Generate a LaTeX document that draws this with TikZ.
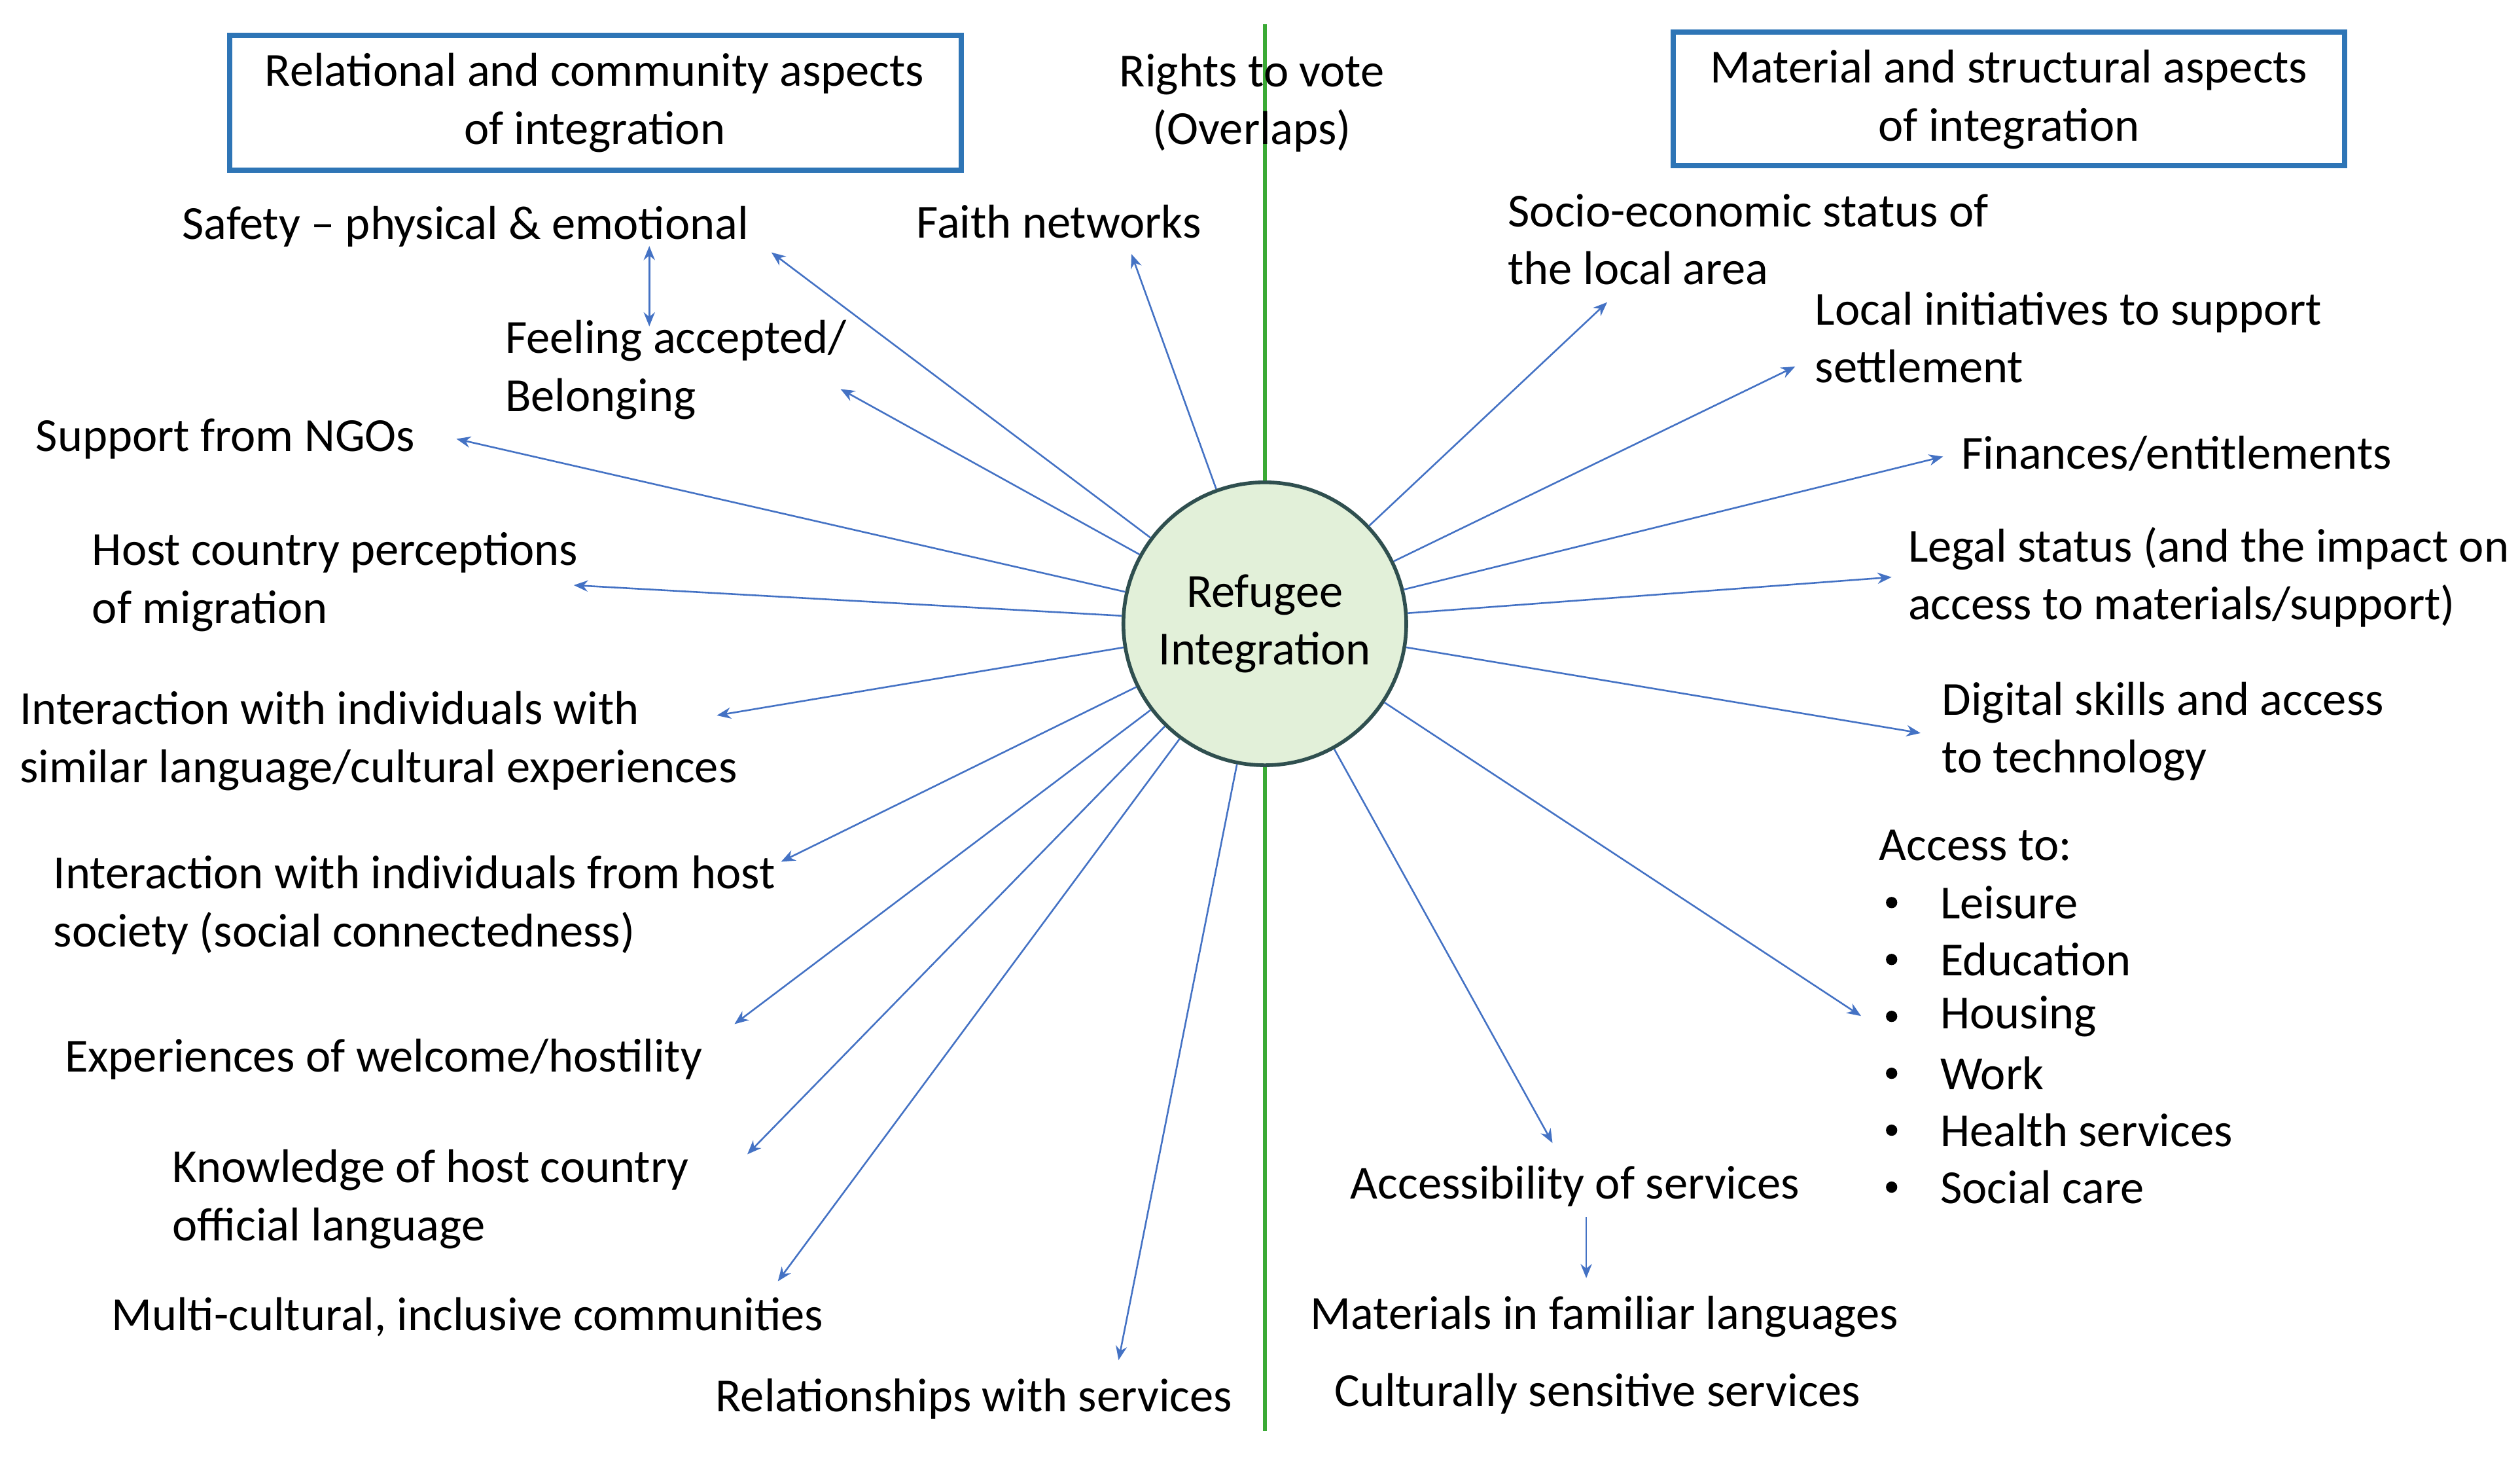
\documentclass[tikz,border=0pt]{standalone}
\usepackage{fontspec}
\setmainfont{Carlito}
\usetikzlibrary{arrows.meta}
\definecolor{arr}{HTML}{4472C4}
\definecolor{boxb}{HTML}{2E75B6}
\definecolor{vline}{HTML}{3AAA35}
\definecolor{cfill}{HTML}{E2F0D9}
\definecolor{cdraw}{HTML}{2F4F4F}
\begin{document}
\begin{tikzpicture}[x=0.02cm,y=-0.02cm,
  lbl/.style={anchor=west,align=left,inner sep=0pt,font=\fontsize{16.8}{20.5}\selectfont},
  ctr/.style={align=center,inner sep=0pt,font=\fontsize{16.8}{20.5}\selectfont},
  link/.style={draw=arr,line width=0.6pt,-{Stealth[length=5pt,width=4pt]}},
  hdr/.style={draw=boxb,line width=1.8pt}]
\useasboundingbox (0,0) rectangle (1568,910);
\draw[vline,line width=1.3pt] (787,15) -- (787,890);
\node[circle,fill=cfill,draw=cdraw,line width=1.3pt,minimum size=176*0.02cm,ctr] (c) at (787,388) {Refugee\\Integration};
\draw[hdr] (143,22) rectangle (598,106);
\draw[hdr] (1041,20) rectangle (1459,103);
\node[ctr] (h1) at (370,64) {Relational and community aspects\\of integration};
\node[ctr] (h2) at (1250,62) {Material and structural aspects\\of integration};
\node[ctr] (rv) at (779,64) {Rights to vote\\(Overlaps)};
\node[lbl] (t1) at (113,141) {Safety – physical \& emotional};
\node[lbl] (t2) at (570,138) {Faith networks};
\node[lbl] (t3) at (314,230) {Feeling accepted/\\Belonging};
\node[lbl] (t4) at (22,273) {Support from NGOs};
\node[lbl] (t5) at (57,362) {Host country perceptions\\of migration};
\node[lbl] (t6) at (12,461) {Interaction with individuals with\\similar language/cultural experiences};
\node[lbl] (t7) at (33,563) {Interaction with individuals from host\\society (social connectedness)};
\node[lbl] (t8) at (40,659) {Experiences of welcome/hostility};
\node[lbl] (t9) at (107,746) {Knowledge of host country\\official language};
\node[lbl] (t10) at (69,819) {Multi-cultural, inclusive communities};
\node[lbl] (t11) at (445,870) {Relationships with services};
\node[lbl] (r1) at (938,149) {Socio-economic status of\\the local area};
\node[lbl] (r2) at (1129,210) {Local initiatives to support\\settlement};
\node[lbl] (r3) at (1220,282) {Finances/entitlements};
\node[lbl] (r4) at (1187,359) {Legal status (and the impact on\\access to materials/support)};
\node[lbl] (r5) at (1208,455) {Digital skills and access\\to technology};
\node[lbl] (r6) at (1169,526) {Access to:};
\foreach \t [count=\i] in {Leisure,Education,Housing,Work,Health services,Social care}{
  \node[fill=black,circle,inner sep=0pt,minimum size=4pt] (b\i) at (1177,{526+35.4*\i}) {};
  \node[lbl] (a\i) at (1207,{526+35.4*\i}) {\t};
}
\node[lbl] (r7) at (840,738) {Accessibility of services};
\node[lbl] (r8) at (815,819) {Materials in familiar languages};
\node[lbl] (r9) at (830,867) {Culturally sensitive services};
\foreach \n/\x/\y in {e1/480/157,e2/523/242,e3/704/158,e4/284/273,e5/357/364,e6/446/445,e7/486/536,e8/457/637,e9/465/718,e10/484/797,e11/696/846,f1/1000/188,f2/1117/228,f3/1209/284,f4/1177/359,f5/1195/456,f6/1158/632,f7/966/711,s1/404/153,s2/404/203,s3/987/757,s4/987/795}
  \coordinate (\n) at (\x,\y);
\foreach \e in {e1,e2,e3,e4,e5,e6,e7,e8,e9,e10,e11,f1,f2,f3,f4,f5,f6,f7}
  \draw[link] (c) -- (\e);
\draw[link,{Stealth[length=5pt,width=4pt]}-{Stealth[length=5pt,width=4pt]}] (s1) -- (s2);
\draw[link] (s3) -- (s4);
\end{tikzpicture}
\end{document}
